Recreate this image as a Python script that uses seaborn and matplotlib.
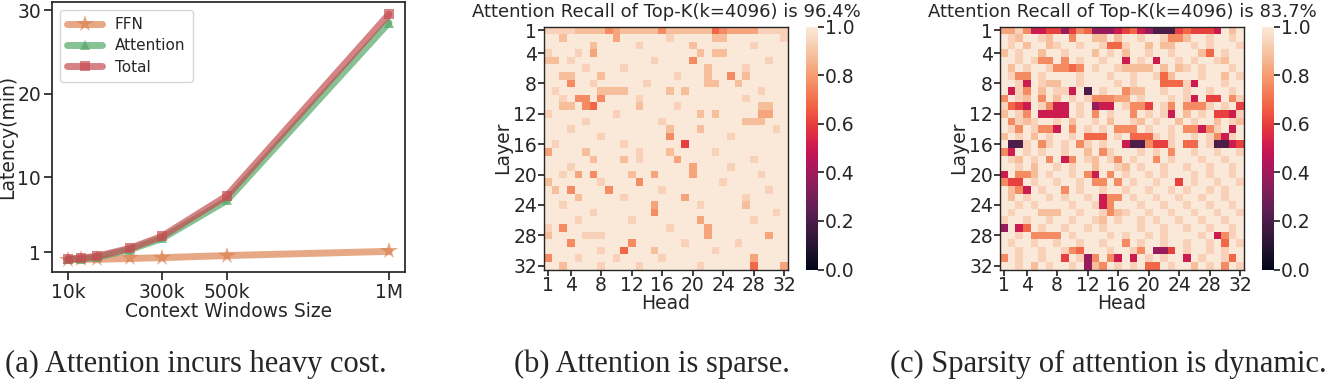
import numpy as np
import matplotlib
matplotlib.use("Agg")
import matplotlib.pyplot as plt
import seaborn as sns

# ==============================
# Data: (a) latency vs context window
# ==============================
context_k = [10, 50, 100, 200, 300, 500, 1000]
ffn_min = [0.1, 0.15, 0.15, 0.25, 0.35, 0.6, 1.1]
attn_min = [0.15, 0.2, 0.4, 1.3, 2.65, 7.2, 28.5]
total_min = [0.2, 0.28, 0.52, 1.45, 2.9, 7.75, 29.5]
x_ticks = [10, 300, 500, 1000]
x_ticklabels = ["10k", "300k", "500k", "1M"]
y_ticks = [1, 10, 20, 30]

# ==============================
# Data: (b), (c) attention recall per layer (rows) / head (cols)
# one digit per cell, digit -> recall below
# ==============================
level = {"9": 0.99, "8": 0.93, "7": 0.88, "6": 0.82, "5": 0.76,
         "4": 0.68, "3": 0.6, "2": 0.5, "1": 0.38, "0": 0.2}

recall_b = [
    "8888 7777 5677 7775 7777 7745 6666 8888",
    "9979 9999 9699 9999 8999 9977 9999 9998",
    "9999 9979 9999 8999 9997 9999 9998 9999",
    "8999 8969 9999 9999 9999 7977 9999 9999",
    "7798 9999 9999 9989 9995 9999 9999 9899",
    "9999 9899 9989 9999 9999 9799 9989 9999",
    "9977 9997 9999 9999 9899 9799 5979 9999",
    "9995 9989 9999 9899 9999 9779 9799 9999",
    "9899 9997 7779 9999 7979 9999 9999 8999",
    "9989 5595 9999 8999 9999 9999 9989 9999",
    "9977 9549 9999 7999 9899 9999 9999 7799",
    "8999 9999 9899 9999 9999 7979 9999 6699",
    "9999 9899 9999 9998 9999 9999 9977 7999",
    "9998 9999 9999 9999 7999 7999 9999 9989",
    "9999 9998 9999 9999 5999 9999 8999 9999",
    "9899 9999 9989 9999 9939 9999 9999 9999",
    "6999 9799 9999 8999 7999 9989 9999 9999",
    "9999 9979 9979 8999 9699 9999 9998 9999",
    "9998 9999 9999 9999 9996 9999 8999 9999",
    "9989 6959 9997 9969 9996 9999 9999 8999",
    "7999 9998 9999 5999 9999 9998 9999 9999",
    "9795 9999 5999 9998 9999 9999 9999 9899",
    "9999 7999 9989 9999 9969 9999 9989 9999",
    "9989 9999 9999 9969 9999 8999 9979 9999",
    "9999 9989 9999 9959 9999 9999 9999 9989",
    "9999 8999 9998 9999 9999 6999 9998 9999",
    "8959 9999 9999 9999 8999 9699 9999 9999",
    "7999 9888 9999 9999 9999 9699 9999 9699",
    "9995 9999 9995 9999 9989 9999 9899 9999",
    "9999 9998 9949 9979 9999 9989 9999 9999",
    "5999 8999 9899 9998 9999 9999 9996 9999",
    "9979 9998 9999 8999 9999 8999 9994 9996",
]

recall_c = [
    "6685 2233 1354 1112 3421 0003 4333 2979",
    "9879 9879 9599 7797 9989 9855 7998 9989",
    "9897 9978 9989 9844 8997 9779 9898 9998",
    "7989 9799 8999 7989 7998 9989 9974 9899",
    "9989 8559 5989 9899 2989 2998 9899 8799",
    "9798 9985 5459 8998 7777 9797 8989 9989",
    "9855 9899 9989 9989 9899 8479 9989 9798",
    "9982 9877 9989 9998 9899 9444 8299 9899",
    "9285 9798 8290 9899 5779 9899 8998 9989",
    "5987 9597 9898 5556 6989 9989 8293 3958",
    "8432 9852 2989 1229 8553 9859 5558 9893",
    "7985 9222 2989 5989 9598 9829 7989 3328",
    "9587 8998 9799 8979 9879 8997 9899 7987",
    "9859 8552 9598 9895 5598 9989 5525 8929",
    "7989 7989 9894 4498 9444 8989 9898 5289",
    "9008 9589 8958 9899 2005 3389 4498 0023",
    "5298 9899 8997 9589 9989 8959 9899 8998",
    "9879 8959 2598 7985 9899 5989 9989 9899",
    "9989 7998 9899 7998 7989 9899 8998 9989",
    "2955 7989 9895 2959 8998 9899 9898 9989",
    "5339 8998 9989 5595 9899 8993 9899 8998",
    "9752 9899 5989 9899 8998 9989 8998 9899",
    "9798 9989 8998 9255 9899 8998 9989 9899",
    "9989 8999 9899 8259 9989 9899 8998 9989",
    "9899 9777 9989 9857 8998 9989 9899 8998",
    "8998 9989 9899 8798 9989 8998 9989 9899",
    "1924 9899 8998 9899 9989 9899 8998 9989",
    "9989 5555 9899 9989 8998 9899 9989 2589",
    "9899 8998 9989 9899 5989 9899 8998 9498",
    "9989 9899 8549 9989 9859 1139 8998 9899",
    "5989 9899 3981 5952 9298 9899 2989 9849",
    "9989 7989 9891 7598 9894 4989 9798 9598",
]

head_ticks = [1, 4, 8, 12, 16, 20, 24, 28, 32]
titles = ["Attention Recall of Top-K(k=4096) is 96.4%",
          "Attention Recall of Top-K(k=4096) is 83.7%"]
captions = ["(a) Attention incurs heavy cost.",
            "(b) Attention is sparse.",
            "(c) Sparsity of attention is dynamic."]


def to_matrix(rows):
    return np.array([[level[ch] for ch in r.replace(" ", "")] for r in rows])


# ==============================
# Figure
# ==============================
sns.set_theme(style="ticks")
plt.rcParams["font.family"] = ["DejaVu Sans"]
FS = 13.5

fig = plt.figure(figsize=(13.32, 3.85), dpi=100)

# --- (a) line chart ---
ax = fig.add_axes([52 / 1332, 113 / 385, 353 / 1332, 270 / 385])
pal = sns.color_palette("deep")
series = [("FFN", ffn_min, pal[1], "*", 13),
          ("Attention", attn_min, pal[2], "^", 7),
          ("Total", total_min, pal[3], "s", 7)]
for name, vals, col, mk, ms in series:
    sns.lineplot(x=context_k, y=vals, ax=ax, color=col, marker=mk,
                 markersize=ms, markeredgewidth=0, linewidth=5,
                 alpha=0.7, label=name)
ax.set_xticks(x_ticks)
ax.set_xticklabels(x_ticklabels)
ax.set_yticks(y_ticks)
ax.tick_params(labelsize=FS, pad=2)
ax.set_xlabel("Context Windows Size", fontsize=FS, labelpad=0)
ax.set_ylabel("Latency(min)", fontsize=FS, labelpad=0)
ax.legend(loc="upper left", fontsize=11, handlelength=2.3,
          borderpad=0.5, labelspacing=0.4, handletextpad=0.8)

# --- (b), (c) heatmaps ---
for i, (rows, title) in enumerate(zip([recall_b, recall_c], titles)):
    left = [544, 1000][i]
    cb_left = [806, 1262][i]
    hax = fig.add_axes([left / 1332, 115.5 / 385, 244 / 1332, 243 / 385])
    cax = fig.add_axes([cb_left / 1332, 115.5 / 385, 12 / 1332, 243 / 385])
    sns.heatmap(to_matrix(rows), ax=hax, cbar_ax=cax, cmap="rocket",
                vmin=0, vmax=1, xticklabels=False, yticklabels=False)
    for sp in hax.spines.values():
        sp.set_visible(True)
        sp.set_linewidth(1.0)
    pos = np.array(head_ticks) - 0.5
    hax.set_xticks(pos)
    hax.set_xticklabels(head_ticks, rotation=0)
    hax.set_yticks(pos)
    hax.set_yticklabels(head_ticks, rotation=0)
    hax.tick_params(labelsize=FS, length=4, pad=1)
    hax.set_xlabel("Head", fontsize=FS, labelpad=-1)
    hax.set_ylabel("Layer", fontsize=FS, labelpad=1)
    hax.set_title(title, fontsize=13, pad=7)
    cax.set_yticks([0, 0.2, 0.4, 0.6, 0.8, 1.0])
    cax.set_yticklabels(["0.0", "0.2", "0.4", "0.6", "0.8", "1.0"])
    cax.tick_params(labelsize=FS, length=4, pad=1)

# --- captions ---
for cx, text in zip([196, 652, 1108], captions):
    fig.text(cx / 1332, 21 / 385, text, ha="center", va="center",
             fontsize=22, family="Liberation Serif")

fig.savefig("out.png", dpi=100)
